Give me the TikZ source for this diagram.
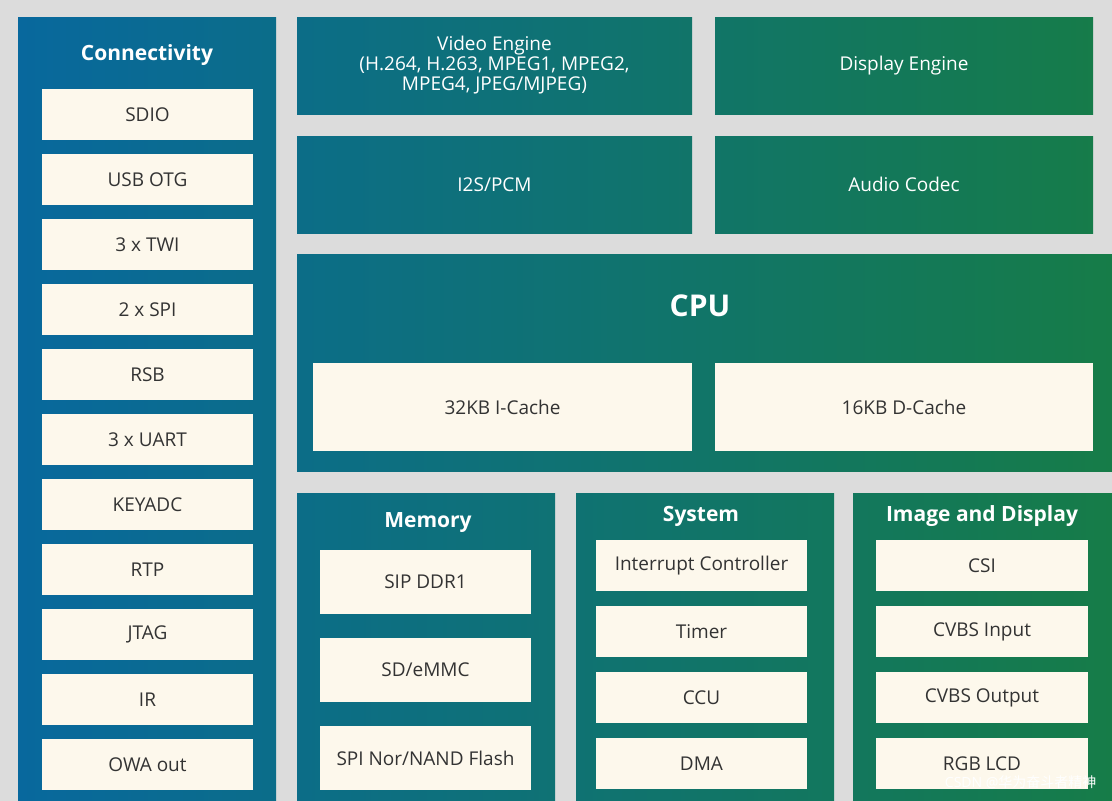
\documentclass[tikz,border=0pt]{standalone}
\usepackage{fontspec}
\setmainfont{Open Sans}
\newfontfamily\cjk{Noto Sans CJK SC}
\usetikzlibrary{positioning}
\definecolor{bgray}{RGB}{220,220,220}
\definecolor{cleft}{RGB}{8,104,158}
\definecolor{cright}{RGB}{22,124,72}
\definecolor{cream}{RGB}{253,248,236}
\tikzset{
  x=1pt, y=-1pt,
  item/.style  = {draw=none, fill=cream, inner sep=0pt, font=\fontsize{19}{22}\selectfont,
                  text=black!80, align=center},
  title/.style = {text=white, font=\bfseries\fontsize{21}{24}\selectfont},
  plain/.style = {text=white, font=\fontsize{19}{23}\selectfont, align=center}
}
% panel with a colour taken from the horizontal gradient
\newcommand{\panel}[5]{%
  \pgfmathtruncatemacro{\pa}{#1/11.12}%
  \pgfmathtruncatemacro{\pb}{#3/11.12}%
  \shade[left color=cright!\pa!cleft, right color=cright!\pb!cleft] (#1,#2) rectangle (#3,#4);
  \coordinate (#5) at ({(#1+#3)/2},{(#2+#4)/2});}
\newcommand{\itembox}[6]{%
  \pgfmathsetmacro{\iw}{(#3)-(#1)}%
  \pgfmathsetmacro{\ih}{(#4)-(#2)}%
  \node[item, minimum width=\iw pt, minimum height=\ih pt] (#5) at ({((#1)+(#3))/2},{((#2)+(#4))/2}) {#6};}

\begin{document}
\begin{tikzpicture}
\fill[bgray] (0,0) rectangle (1112,801);
\useasboundingbox (0,0) rectangle (1112,801);

% panels
\panel{18}{17}{276}{801}{conn}
\panel{297}{17}{692}{114}{video}
\panel{715}{17}{1093}{114}{disp}
\panel{297}{136}{692}{233}{i2s}
\panel{715}{136}{1093}{233}{audio}
\panel{297}{254}{1112}{471}{cpu}
\panel{297}{493}{555}{801}{mem}
\panel{576}{493}{834}{801}{sys}
\panel{853}{493}{1112}{801}{img}

\node[plain] (videot) at (video) {Video Engine\\[-3pt](H.264, H.263, MPEG1, MPEG2,\\[-3pt]MPEG4, JPEG/MJPEG)};
\node[plain] (dispt) at (disp) {Display Engine};
\node[plain] (i2st) at (i2s) {I2S/PCM};
\node[plain] (audiot) at (audio) {Audio Codec};
\node[text=white, font=\bfseries\fontsize{30}{34}\selectfont] (cput) at (700,306) {CPU};

\itembox{313}{363}{692}{451}{icache}{32KB I-Cache}
\itembox{715}{363}{1093}{451}{dcache}{16KB D-Cache}

% Connectivity
\node[title] (connt) at (147,55) {Connectivity};
\foreach \name [count=\i] in {SDIO,USB OTG,3 x TWI,2 x SPI,RSB,3 x UART,KEYADC,RTP,JTAG,IR,OWA out}
  {\itembox{42}{89+(\i-1)*65}{253}{140+(\i-1)*65}{c\i}{\name}}

% Memory
\node[title] (memt) at (428,523) {Memory};
\foreach \name [count=\i] in {SIP DDR1,SD/eMMC,SPI Nor/NAND Flash}
  {\itembox{320}{550+(\i-1)*88}{531}{614+(\i-1)*88}{m\i}{\name}}

% System
\node[title] (syst) at (701,516) {System};
\foreach \name [count=\i] in {Interrupt Controller,Timer,CCU,DMA}
  {\itembox{596}{540+(\i-1)*66}{807}{591+(\i-1)*66}{s\i}{\name}}

% Image and Display
\node[title] (imgt) at (982,516) {Image and Display};
\foreach \name [count=\i] in {CSI,CVBS Input,CVBS Output,RGB LCD}
  {\itembox{876}{540+(\i-1)*66}{1088}{591+(\i-1)*66}{d\i}{\name}}

\node[text=white, anchor=east, font=\fontsize{14}{16}\selectfont] (mark) at (1100,782) {CSDN @{\cjk 华为奋斗者精神}};
\end{tikzpicture}
\end{document}
